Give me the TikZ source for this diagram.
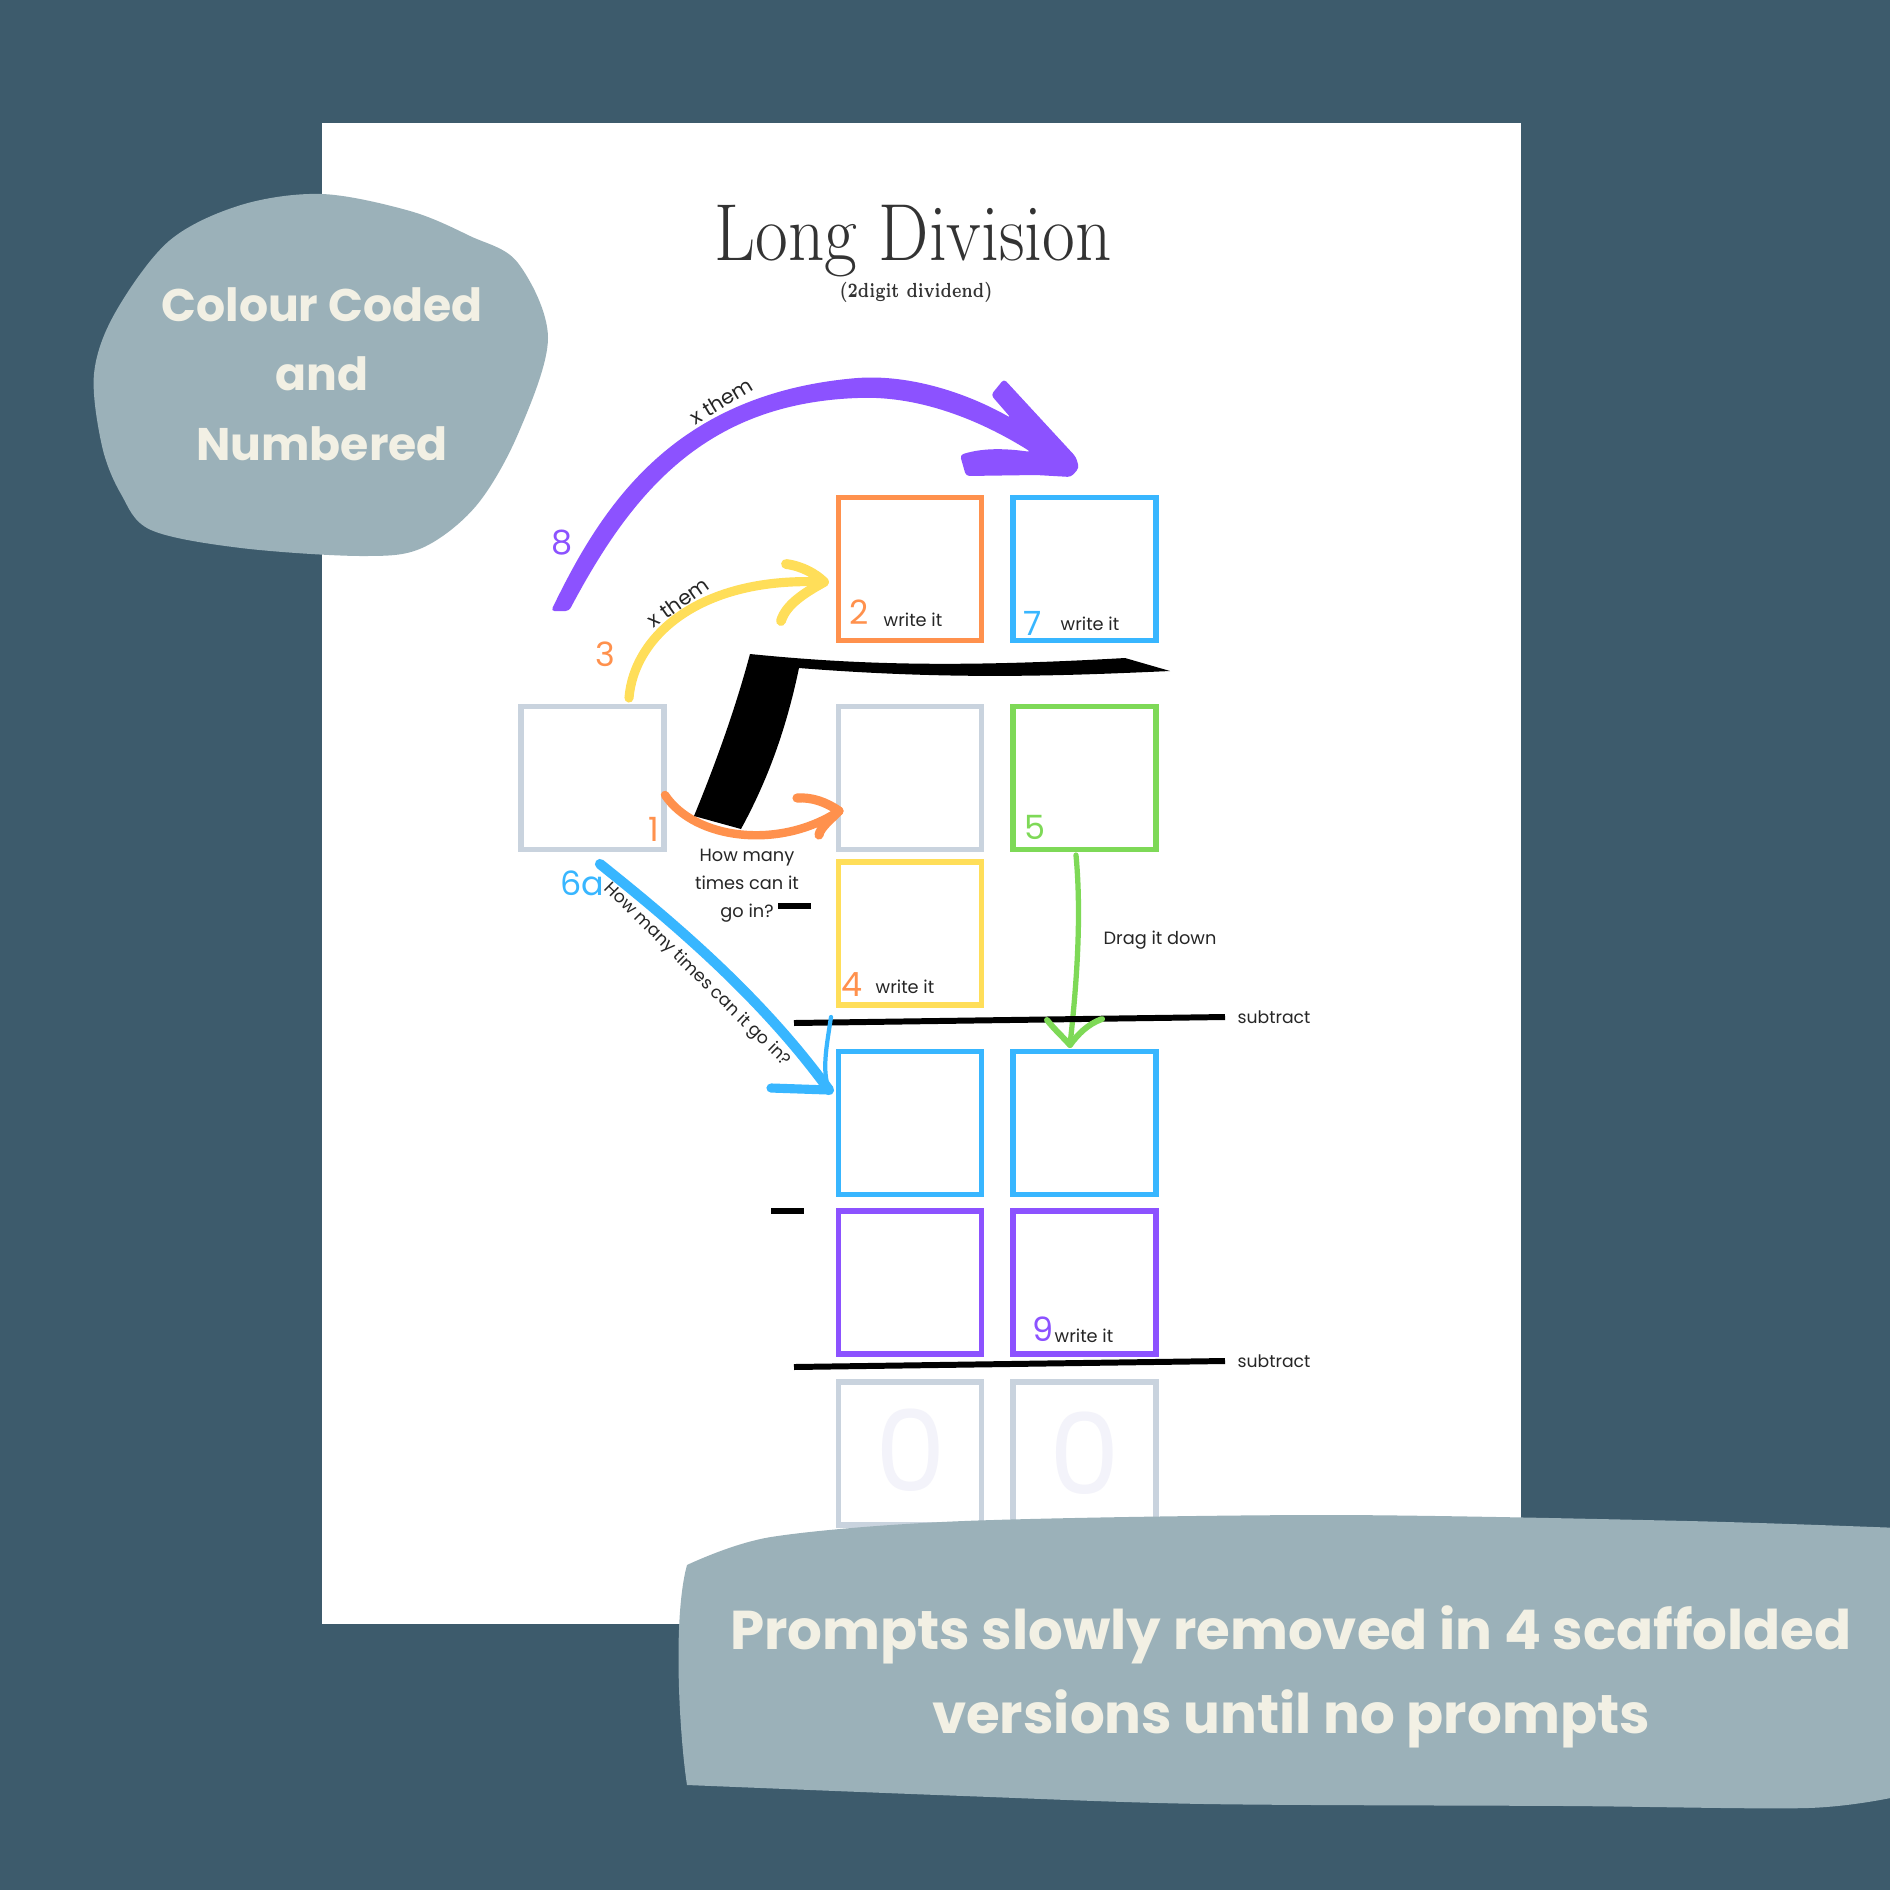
\documentclass[tikz,border=0pt]{standalone}
\usepackage{fontspec}
\setsansfont{Poppins}
\usepackage{tikz}
\definecolor{slatebg}{HTML}{3D5B6C}
\definecolor{blobc}{HTML}{9BB1B9}
\definecolor{creamc}{HTML}{F2F0E4}
\definecolor{orangec}{HTML}{FF914D}
\definecolor{bluec}{HTML}{38B6FF}
\definecolor{greenc}{HTML}{7ED957}
\definecolor{purplec}{HTML}{8C52FF}
\definecolor{yellowc}{HTML}{FFDE59}
\definecolor{greyc}{HTML}{C9D3DE}
\definecolor{zeroc}{HTML}{F3F3FA}

\begin{document}
\begin{tikzpicture}[
  x=0.01cm, y=-0.01cm,
  cell/.style={draw,rectangle,minimum size=1.43cm,inner sep=0pt,line width=1.55pt},
  lab/.style={inner sep=0pt,font=\sffamily\fontsize{5.05}{6}\selectfont,text=black!85},
  num/.style={inner sep=0pt,font=\sffamily\fontsize{9.5}{10}\selectfont},
  zero/.style={inner sep=0pt,text=zeroc,font=\sffamily\fontsize{32}{32}\selectfont},
  blobtext/.style={inner sep=0pt,align=center,text=creamc,font=\sffamily\bfseries},
  brush/.style={line cap=round,line join=round},
  rule/.style={draw=black,line width=1.7pt}
]
  \useasboundingbox (0,0) rectangle (1890,1890);

  % background and page
  \fill[slatebg] (0,0) rectangle (1890,1890);
  \fill[white] (322,123) rectangle (1521,1624);

  % boxes
  \node[cell,draw=orangec] (ten) at (910,569) {};
  \node[cell,draw=bluec] (unit) at (1084.5,569) {};
  \node[cell,draw=greyc] (divisor) at (592.5,778) {};
  \node[cell,draw=greyc] (tens) at (910,778) {};
  \node[cell,draw=greenc] (units) at (1084.5,778) {};
  \node[cell,draw=yellowc] (prod1) at (910,933.5) {};
  \node[cell,draw=bluec] (rest1) at (910,1123) {};
  \node[cell,draw=bluec] (rest2) at (1084.5,1123) {};
  \node[cell,draw=purplec] (prod2) at (910,1282.5) {};
  \node[cell,draw=purplec] (prod3) at (1084.5,1282.5) {};
  \node[cell,draw=greyc] (end1) at (910,1453.5) {};
  \node[cell,draw=greyc] (end2) at (1084.5,1453.5) {};

  % arrow ends
  \coordinate (y3a) at (629,698);
  \coordinate (y3tip) at (824,582);
  \coordinate (y3b) at (786,564);
  \coordinate (y3c) at (781,621);
  \coordinate (o1a) at (665,795);
  \coordinate (o1tip) at (839,811);
  \coordinate (o1b) at (797,798);
  \coordinate (o1c) at (819,835);
  \coordinate (g5a) at (1076,855);
  \coordinate (g5tip) at (1070,1045);
  \coordinate (g5b) at (1047,1020);
  \coordinate (g5c) at (1102,1019);
  \coordinate (b6a) at (600,864);
  \coordinate (b6tip) at (829,1090);
  \coordinate (b6b) at (831,1017);
  \coordinate (b6c) at (771,1088);

  % yellow and orange arrows
  \draw[brush,yellowc,line width=2.6pt] (y3a) .. controls (634,636) and (700,576) .. (y3tip);
  \draw[brush,yellowc,line width=2.8pt] (y3b) .. controls (802,566) and (816,574) .. (y3tip);
  \draw[brush,yellowc,line width=2.8pt] (y3c) .. controls (786,604) and (806,592) .. (y3tip);
  \draw[brush,orangec,line width=2.4pt] (o1a) .. controls (695,840) and (780,850) .. (o1tip);
  \draw[brush,orangec,line width=2.6pt] (o1b) .. controls (812,797) and (826,802) .. (o1tip);
  \draw[brush,orangec,line width=2.6pt] (o1c) .. controls (820,828) and (830,820) .. (o1tip);

  % bracket
  \fill[black] (750,654) .. controls (850,664) and (950,668) .. (1125,658) -- (1170,671)
    .. controls (1060,676) and (950,680) .. (799,668) .. controls (785,735) and (765,785) .. (741,829)
    -- (694,816) .. controls (715,765) and (735,710) .. (750,654) -- cycle;

  % purple arrow
  \fill[purplec,rounded corners=1pt] (551,611) .. controls (600,510) and (670,395) .. (857,378)
    .. controls (910,375) and (965,392) .. (1011,418) -- (991,395) -- (1004,379) -- (1076,457)
    -- (1079,468) -- (1071,477) -- (1036,475) -- (966,476) -- (960,455)
    .. controls (985,447) and (1010,449) .. (1031,452)
    .. controls (980,420) and (920,396) .. (857,398)
    .. controls (705,405) and (632,492) .. (569,611) -- cycle;

  % blue and green arrows
  \draw[brush,bluec,line width=2.9pt] (b6a) .. controls (670,920) and (760,995) .. (b6tip);
  \draw[brush,bluec,line width=2.6pt] (b6c) -- (b6tip);
  \draw[brush,greenc,line width=1.5pt] (g5a) .. controls (1082,920) and (1076,990) .. (g5tip);

  % rules and minus signs
  \coordinate (r1a) at (794,1023);
  \coordinate (r1b) at (1225,1017);
  \coordinate (r2a) at (794,1367);
  \coordinate (r2b) at (1225,1361);
  \coordinate (m1a) at (778,906);
  \coordinate (m1b) at (811,906);
  \coordinate (m2a) at (771,1211);
  \coordinate (m2b) at (804,1211);
  \draw[rule] (r1a) -- (r1b);
  \draw[rule] (r2a) -- (r2b);
  \draw[rule] (m1a) -- (m1b);
  \draw[rule] (m2a) -- (m2b);
  \draw[brush,greenc,line width=1.7pt] (g5b) .. controls (1055,1030) and (1062,1036) .. (g5tip);
  \draw[brush,greenc,line width=1.7pt] (g5c) .. controls (1088,1024) and (1078,1034) .. (g5tip);
  \draw[brush,bluec,line width=1.2pt] (b6b) .. controls (826,1050) and (822,1070) .. (b6tip);

  % numbers
  \node[num,text=orangec] (n2) at (859,612) {2};
  \node[num,text=bluec] (n7) at (1033,623) {7};
  \node[num,text=purplec] (n8) at (562,543) {8};
  \node[num,text=orangec] (n3) at (605,654) {3};
  \node[num,text=orangec] (n1) at (654,829) {1};
  \node[num,text=greenc] (n5) at (1035,827) {5};
  \node[num,text=bluec] (n6a) at (582,883) {6a};
  \node[num,text=orangec] (n4) at (852,985) {4};
  \node[num,text=purplec] (n9) at (1043,1329) {9};

  % prompts
  \node[lab] (w2) at (913,620) {write it};
  \node[lab] (w7) at (1090,624) {write it};
  \node[lab] (w4) at (905,987) {write it};
  \node[lab] (w9) at (1084,1336) {write it};
  \node[lab,rotate=31,font=\sffamily\fontsize{5.8}{6}\selectfont] (them8) at (721,401) {x them};
  \node[lab,rotate=35,font=\sffamily\fontsize{5.8}{6}\selectfont] (them3) at (678,602) {x them};
  \node[lab,align=center,font=\sffamily\fontsize{5.05}{8}\selectfont] (howmany) at (747,886) {How many\\times can it\\go in?};
  \node[lab,rotate=-44.5,font=\sffamily\fontsize{4.9}{6}\selectfont] (howmany2) at (697,975) {How many times can it go in?};
  \node[lab] (drag) at (1160,940) {Drag it down};
  \node[lab,font=\sffamily\fontsize{4.9}{6}\selectfont] (sub1) at (1274,1017) {subtract};
  \node[lab,font=\sffamily\fontsize{4.9}{6}\selectfont] (sub2) at (1274,1361) {subtract};
  \node[zero] (z1) at (911,1450) {0};
  \node[zero] (z2) at (1084.5,1453) {0};

  % title
  \node[inner sep=0pt,text=black!80,font=\fontsize{23}{23}\selectfont] (title) at (913,241) {\scalebox{0.88}[1]{Long Division}};
  \node[inner sep=0pt,text=black!80,font=\bfseries\fontsize{5.8}{6}\selectfont] (subtitle) at (916,292) {\scalebox{0.73}[1]{(2digit dividend)}};

  % blobs
  \fill[blobc] plot[smooth cycle,tension=0.55] coordinates {(322,194) (410,211) (470,236) (518,263) (548,338) (518,434) (476,506) (422,548) (362,556) (241,548) (151,530) (121,494) (102,446) (94,374) (115,313) (169,241) (241,205)};
  \fill[blobc] plot[smooth,tension=0.5] coordinates {(687,1565) (771,1537) (964,1521) (1326,1515) (1688,1521) (1900,1528)}
    -- (1900,1796) -- plot[smooth,tension=0.5] coordinates {(1900,1796) (1808,1808) (1567,1806) (1205,1804) (964,1796) (687,1785)}
    .. controls (680,1740) and (672,1620) .. (687,1565) -- cycle;
  \node[blobtext,font=\sffamily\bfseries\fontsize{13}{19.7}\selectfont] (badge) at (322,374) {Colour Coded\\and\\Numbered};
  \node[blobtext,font=\sffamily\bfseries\fontsize{15.55}{24}\selectfont] (banner) at (1291,1677) {Prompts slowly removed in 4 scaffolded\\versions until no prompts};
\end{tikzpicture}
\end{document}
